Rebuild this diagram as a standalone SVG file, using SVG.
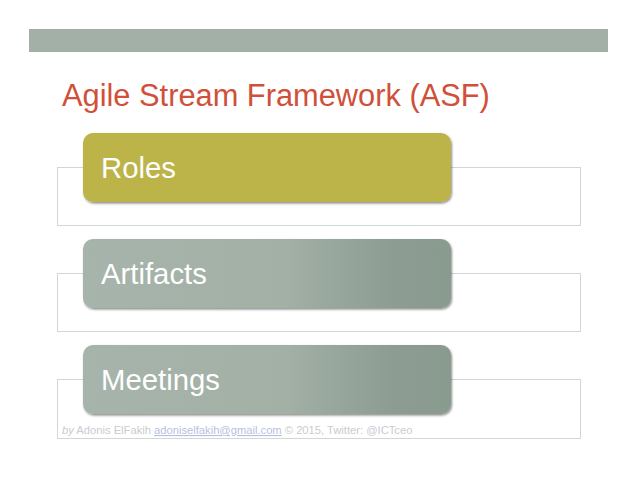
<svg xmlns="http://www.w3.org/2000/svg" width="638" height="493" viewBox="0 0 638 493">
<style>
.frame{fill:#ffffff;stroke:#d3d6d6;stroke-width:1}
.box{filter:url(#sh)}
.lbl{font-family:"Liberation Sans",Arial,sans-serif;font-size:29.3px;fill:#ffffff}
.title{font-family:"Liberation Sans",Arial,sans-serif;font-size:30.8px;fill:#d0503a}
.foot{font-family:"Liberation Sans",Arial,sans-serif;font-size:11.2px;fill:#c9ccd1}
</style>
<defs>
<linearGradient id="gg" x1="0" y1="0" x2="1" y2="0">
<stop offset="0" stop-color="#a7b4ab"/>
<stop offset="0.55" stop-color="#a2b0a6"/>
<stop offset="0.85" stop-color="#8c9c92"/>
<stop offset="1" stop-color="#899a8f"/>
</linearGradient>
<filter id="sh" x="-5%" y="-10%" width="110%" height="125%">
<feDropShadow dx="1" dy="1.5" stdDeviation="1" flood-color="#000" flood-opacity="0.45"/>
</filter>
</defs>
<rect x="29" y="29" width="579" height="23" fill="#a3b0a8"/>
<text class="title" x="62" y="106">Agile Stream Framework (ASF)</text>
<g id="roles">
<rect class="frame" x="57.5" y="167.5" width="523" height="58"/>
<rect class="box" x="83" y="133" width="368" height="69" rx="10" fill="#bcb44a"/>
<text class="lbl" x="101" y="178">Roles</text>
</g>
<g id="artifacts">
<rect class="frame" x="57.5" y="273.5" width="523" height="58"/>
<rect class="box" x="83" y="239" width="368" height="69" rx="10" fill="url(#gg)"/>
<text class="lbl" x="101" y="284">Artifacts</text>
</g>
<g id="meetings">
<rect class="frame" x="57.5" y="379.5" width="523" height="59"/>
<rect class="box" x="83" y="345" width="368" height="69" rx="10" fill="url(#gg)"/>
<text class="lbl" x="101" y="390">Meetings</text>
</g>
<text class="foot" x="62" y="434"><tspan font-style="italic">by</tspan> Adonis ElFakih <tspan fill="#b6c1de" text-decoration="underline">adoniselfakih@gmail.com</tspan> © 2015, Twitter: @ICTceo</text>
</svg>
